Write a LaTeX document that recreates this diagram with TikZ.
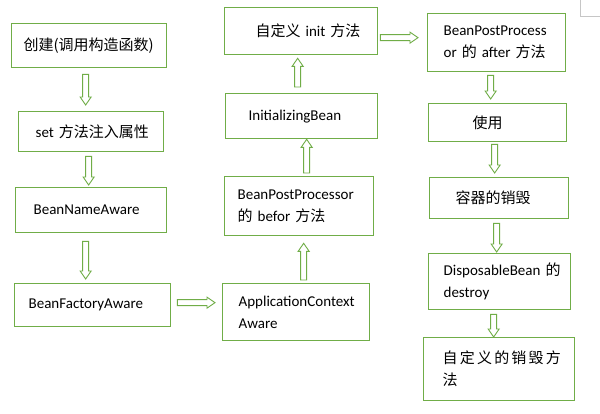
\documentclass[tikz,border=0pt]{standalone}
\usepackage{fontspec}
\setmainfont{Carlito}
\newfontfamily\cjk{Noto Sans CJK SC}
\usepackage{tikz}
\usetikzlibrary{calc}
\definecolor{boxgreen}{HTML}{70AD47}
\newcommand{\zh}[1]{{\cjk #1}}
\tikzset{
  box/.style={draw=boxgreen, line width=1.3pt, anchor=north west, inner sep=0pt, align=left, font=\fontsize{15}{22}\selectfont},
  pad/.style={execute at begin node={\leftskip=#1pt\relax}},
  flow/.style={draw=boxgreen, line width=0.9pt, fill=white,
    to path={let \p1=(\tikztostart), \p2=(\tikztotarget), \n1={atan2(\y2-\y1,\x2-\x1)}, \n2={veclen(\x2-\x1,\y2-\y1)} in
      [shift={(\p1)}, rotate=\n1] (0pt,-3pt) -- (\n2-8pt,-3pt) -- (\n2-8pt,-5.5pt) -- (\n2,0pt) -- (\n2-8pt,5.5pt) -- (\n2-8pt,3pt) -- (0pt,3pt) -- cycle}}
}
\begin{document}
\begin{tikzpicture}[x=1pt, y=-1pt]
    \fill[white] (0,0) rectangle (600,413);
    \useasboundingbox (0,0) rectangle (600,413);
    \draw[gray!45, line width=0.8pt] (580,0) -- (580,16) -- (600,16);
    \node[box, pad=12, text width=155pt, minimum height=44pt] (create) at (11,23) {\zh{创建(调用构造函数)}};
    \node[box, pad=17, text width=145pt, minimum height=40pt] (setprop) at (18,111) {set \zh{方法注入属性}};
    \node[box, pad=18, text width=151pt, minimum height=45pt] (nameaware) at (15,187) {BeanNameAware};
    \node[box, pad=14, text width=156pt, minimum height=43pt] (factaware) at (14,283) {BeanFactoryAware};
    \node[box, pad=16, text width=147pt, minimum height=57pt] (ctxaware) at (222,283) {ApplicationContext\\Aware};
    \node[box, pad=13, text width=149pt, minimum height=59pt] (bppbefore) at (224,176) {BeanPostProcessor\\\zh{的} befor \zh{方法}};
    \node[box, pad=23, text width=152pt, minimum height=45pt] (initbean) at (225,93) {InitializingBean};
    \node[box, pad=31, text width=153pt, minimum height=47pt] (initmethod) at (224,7) {\zh{自定义} init \zh{方法}};
    \node[box, pad=16, text width=138pt, minimum height=58pt] (bppafter) at (427,13) {BeanPostProcess\\or \zh{的} after \zh{方法}};
    \node[box, pad=44, text width=138pt, minimum height=38pt] (use) at (428,103) {\zh{使用}};
    \node[box, pad=26, text width=139pt, minimum height=41pt] (destroyc) at (429,177) {\zh{容器的销毁}};
    \node[box, pad=15, text width=142pt, minimum height=56pt] (disposable) at (428,253) {DisposableBean \zh{的}\\destroy};
    \node[box, pad=19, text width=151pt, minimum height=63pt] (customdestroy) at (423,337) {\zh{自\kern2.2pt 定\kern2.2pt 义\kern2.2pt 的\kern2.2pt 销\kern2.2pt 毁\kern2.2pt 方}\\\zh{法}};
    \draw[flow] ([shift={(-3.5,6)}]create.south) to ([shift={(-5.5,-6)}]setprop.north);
    \draw[flow] ([shift={(-2.5,4)}]setprop.south) to ([shift={(-2.5,-2)}]nameaware.north);
    \draw[flow] ([shift={(-5.5,8)}]nameaware.south) to ([shift={(-7,-4)}]factaware.north);
    \draw[flow] ([shift={(6,-2.5)}]factaware.east) to ([shift={(-7,-9.5)}]ctxaware.west);
    \draw[flow] ([shift={(7.5,-3)}]ctxaware.north) to ([shift={(4.5,7)}]bppbefore.south);
    \draw[flow] ([shift={(7.5,-3)}]bppbefore.north) to ([shift={(5,0)}]initbean.south);
    \draw[flow] ([shift={(-4,-6)}]initbean.north) to ([shift={(-3.5,3)}]initmethod.south);
    \draw[flow] ([shift={(2,6.5)}]initmethod.east) to ([shift={(-9,-5)}]bppafter.west);
    \draw[flow] ([shift={(-6,3)}]bppafter.south) to ([shift={(-7,-4)}]use.north);
    \draw[flow] ([shift={(-3,2)}]use.south) to ([shift={(-4.5,-4)}]destroyc.north);
    \draw[flow] ([shift={(-2.5,4)}]destroyc.south) to ([shift={(-3,-1)}]disposable.north);
    \draw[flow] ([shift={(-6,4)}]disposable.south) to ([shift={(-5.5,0)}]customdestroy.north);
\end{tikzpicture}
\end{document}
